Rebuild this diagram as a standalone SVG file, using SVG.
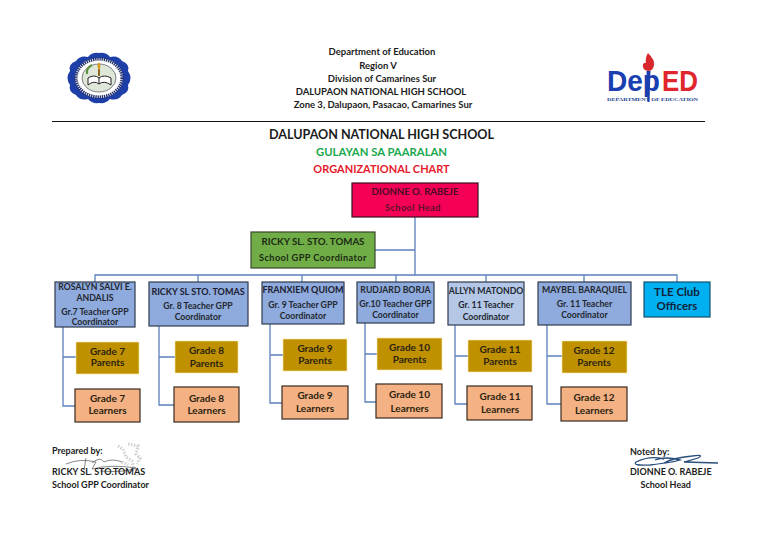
<svg xmlns="http://www.w3.org/2000/svg" width="768" height="543" viewBox="0 0 768 543">
<style>
text{font-family:Lato,"Liberation Sans",sans-serif;text-anchor:middle;fill:#1c1c1c}
.h{font-size:9.5px;font-weight:bold}
.n{font-size:9px;font-weight:bold;fill:#1a2030}
.r{font-size:8.7px;font-weight:bold;fill:#222830}
.g{font-size:10px;font-weight:bold;fill:#2c2410}
.l{text-anchor:start;font-size:9px;font-weight:bold}
.logo{font-family:"Liberation Sans",sans-serif;font-weight:bold;text-anchor:start}
.blue{fill:#8faadc;stroke:#2f3b4f;stroke-width:1.2}
.par{fill:#bf9000;stroke:#ffe9a8;stroke-width:.6}
.lea{fill:#f4b183;stroke:#3a2a20;stroke-width:1.2}
.c{fill:none;stroke:#5b80bd;stroke-width:1.3}
</style>
<rect width="768" height="543" fill="#fff"/>

<g id="seal">
<path d="M99 53 Q106 52 110 57 Q118 55 122 61 Q130 64 128 71 Q133 78 128 85 Q130 92 122 95 Q118 101 110 99 Q106 104 99 103 Q92 104 88 99 Q80 101 76 95 Q68 92 70 85 Q65 78 70 71 Q68 64 76 61 Q80 55 88 57 Q92 52 99 53Z" fill="#1f3fa8"/>
<ellipse cx="99" cy="78" rx="24" ry="20" fill="#fff"/>
<ellipse cx="99" cy="78" rx="23" ry="19" fill="none" stroke="#26336b" stroke-width="3.2" stroke-dasharray="1.4 .8"/>
<ellipse cx="99" cy="78" rx="17" ry="14" fill="#dfe8d8" stroke="#334" stroke-width=".6"/>
<path d="M88 85 Q94 80 99 84 Q104 80 111 85 L111 78 Q104 74 99 78 Q94 74 88 78Z" fill="#fff" stroke="#222" stroke-width="1"/>
<path d="M99 78V84" stroke="#222" stroke-width="1"/>
<path d="M99 76V69" stroke="#8a6a20" stroke-width="2"/>
<path d="M99 62Q96 66 99 70Q102 66 99 62Z" fill="#d69a20"/>
<path d="M87 74Q86 68 92 65" fill="none" stroke="#5c8f3a" stroke-width="2"/>
</g>

<g id="deped">
<text class="logo" x="607" y="91" font-size="30" textLength="53" lengthAdjust="spacingAndGlyphs" style="fill:#1a3fb0">Dep</text>
<text class="logo" x="662" y="91" font-size="30" textLength="36" lengthAdjust="spacingAndGlyphs" style="fill:#e0252c">ED</text>
<path d="M646.500 71H650.500L649.500 102H647.500Z" fill="#1a3fb0"/>
<path d="M648 53Q655 60 654 65Q653 71 648 71Q642 70 643 64Q645 62 646 63Q645 58 648 53Z" fill="#d9272e"/>
<text class="logo" x="607" y="101" font-size="5" textLength="91" lengthAdjust="spacingAndGlyphs" style='font-family:"Liberation Serif",serif;fill:#1a3f90'>DEPARTMENT OF EDUCATION</text>
</g>

<g id="header">
<text class="h" x="382" y="55">Department of Education</text>
<text class="h" x="378" y="68.500">Region V</text>
<text class="h" x="382" y="81.500">Division of Camarines Sur</text>
<text class="h" x="381" y="94.500">DALUPAON NATIONAL HIGH SCHOOL</text>
<text class="h" x="383" y="107.500">Zone 3, Dalupaon,  Pasacao, Camarines Sur</text>
<path d="M52 121.500H705" stroke="#111" stroke-width="1"/>
<text x="381.500" y="139" font-size="12.600" font-weight="bold" textLength="225">DALUPAON NATIONAL HIGH SCHOOL</text>
<text x="381.500" y="155.500" font-size="11.300" font-weight="bold" style="fill:#19a84e">GULAYAN SA PAARALAN</text>
<text x="381.500" y="173" font-size="11" font-weight="bold" style="fill:#e8192c">ORGANIZATIONAL CHART</text>
</g>

<g id="connectors">
<path class="c" d="M415 217V275M375 250H415M95 282V275H677V282M198 275V282M302 275V282M396 275V282M486 275V282M584 275V282"/>
<path class="c" d="M63 327V406H75M63 357H76"/>
<path class="c" d="M159 326V405H174M159 357H175"/>
<path class="c" d="M270 324V403H282M270 355H283"/>
<path class="c" d="M365 323V402H376M365 354H377"/>
<path class="c" d="M455 325V404H467M455 356H468"/>
<path class="c" d="M547 325V404H561M547 356H562"/>
</g>

<g id="head"><rect x="352" y="183" width="126" height="34" fill="#f50057" stroke="#3a1020" stroke-width="1.200"/>
<text x="415" y="195" style="fill:#4a0a24;font-size:9.600px;font-weight:bold">DIONNE O. RABEJE</text><text x="413" y="211" style="fill:#5a1028;font-size:9px;font-weight:bold;letter-spacing:.5px">School Head</text></g>
<g id="gpp"><rect x="251" y="232" width="124" height="36" fill="#70ad47" stroke="#39472f" stroke-width="1.200"/>
<text x="313" y="245" style="fill:#1c2a14;font-size:9.700px;font-weight:bold">RICKY SL.  STO. TOMAS</text><text x="313" y="261" style="fill:#1c2a14;font-size:9.200px;font-weight:bold;letter-spacing:.4px">School GPP Coordinator</text></g>

<g id="c7"><rect class="blue" x="55" y="282" width="80" height="45"/>
<text class="r" x="95" y="290">ROSALYN SALVI E.</text><text class="r" x="95" y="301">ANDALIS</text><text class="r" x="95" y="315">Gr.7  Teacher GPP</text><text class="r" x="95" y="325">Coordinator</text></g>
<g id="c8"><rect class="blue" x="149" y="282" width="99" height="44"/>
<text class="n" x="198" y="295">RICKY SL STO. TOMAS</text><text class="r" x="198" y="309">Gr. 8 Teacher GPP</text><text class="r" x="198" y="320">Coordinator</text></g>
<g id="c9"><rect class="blue" x="262" y="282" width="82" height="42"/>
<text class="n" x="303" y="293">FRANXIEM QUIOM</text><text class="r" x="303" y="308">Gr. 9 Teacher GPP</text><text class="r" x="303" y="319">Coordinator</text></g>
<g id="c10"><rect class="blue" x="357" y="282" width="77" height="41"/>
<text class="r" x="395.500" y="293">RUDJARD BORJA</text><text class="r" x="395.500" y="307">Gr.10 Teacher GPP</text><text class="r" x="395.500" y="318">Coordinator</text></g>
<g id="c11"><rect class="blue" x="448" y="282" width="76" height="43" style="fill:#b4c7e7"/>
<text class="r" x="486" y="294">ALLYN MATONDO</text><text class="r" x="486" y="308">Gr. 11 Teacher</text><text class="r" x="486" y="320">Coordinator</text></g>
<g id="c12"><rect class="blue" x="538" y="282" width="93" height="43"/>
<text class="r" x="584.500" y="293">MAYBEL BARAQUIEL</text><text class="r" x="584.500" y="307">Gr. 11 Teacher</text><text class="r" x="584.500" y="318">Coordinator</text></g>
<g id="tle"><rect x="644" y="282" width="66" height="35" fill="#00b0f0" stroke="#14506a" stroke-width="1.200"/>
<text x="677" y="296" style="font-size:11.500px;font-weight:bold;fill:#10233a">TLE Club</text><text x="677" y="310" style="font-size:11.500px;font-weight:bold;fill:#10233a">Officers</text></g>

<g id="p7"><rect class="par" x="76" y="342" width="63" height="32"/><text class="g" x="107.500" y="355">Grade 7</text><text class="g" x="107.500" y="366">Parents</text></g>
<g id="l7"><rect class="lea" x="75" y="389" width="65" height="33"/><text class="g" x="107.500" y="402">Grade 7</text><text class="g" x="107.500" y="414">Learners</text></g>
<g id="p8"><rect class="par" x="175" y="341" width="63" height="32"/><text class="g" x="206.500" y="354">Grade 8</text><text class="g" x="206.500" y="367">Parents</text></g>
<g id="l8"><rect class="lea" x="174" y="387" width="65" height="35"/><text class="g" x="206.500" y="402">Grade 8</text><text class="g" x="206.500" y="414">Learners</text></g>
<g id="p9"><rect class="par" x="283" y="339" width="64" height="32"/><text class="g" x="315" y="352">Grade 9</text><text class="g" x="315" y="364">Parents</text></g>
<g id="l9"><rect class="lea" x="282" y="386" width="66" height="33"/><text class="g" x="315" y="399">Grade 9</text><text class="g" x="315" y="412">Learners</text></g>
<g id="p10"><rect class="par" x="377" y="338" width="65" height="32"/><text class="g" x="409.500" y="351">Grade 10</text><text class="g" x="409.500" y="363">Parents</text></g>
<g id="l10"><rect class="lea" x="376" y="384" width="66" height="34"/><text class="g" x="409.500" y="398">Grade 10</text><text class="g" x="409.500" y="412">Learners</text></g>
<g id="p11"><rect class="par" x="468" y="340" width="64" height="32"/><text class="g" x="500" y="353">Grade 11</text><text class="g" x="500" y="365">Parents</text></g>
<g id="l11"><rect class="lea" x="467" y="386" width="65" height="34"/><text class="g" x="500" y="400">Grade 11</text><text class="g" x="500" y="413">Learners</text></g>
<g id="p12"><rect class="par" x="562" y="341" width="65" height="32"/><text class="g" x="594" y="354">Grade 12</text><text class="g" x="594" y="366">Parents</text></g>
<g id="l12"><rect class="lea" x="561" y="387" width="66" height="34"/><text class="g" x="594" y="401">Grade 12</text><text class="g" x="594" y="414">Learners</text></g>

<g id="prepared">
<path d="M118 446l5 3 3 8 6 4 2 9 4 5M128 444l10 2-2 8 4 4-3 6M122 462l6 3" fill="none" stroke="#cfcfcf" stroke-width="3" stroke-dasharray="1.500 1.500"/>
<path d="M66 464Q80 458 96 462L92 469Q110 464 136 468Q124 473 100 471M84 470L86 458M92 463Q100 456 104 462Q112 458 122 462" fill="none" stroke="#555" stroke-width=".7"/>
<text class="l" x="52" y="454">Prepared by:</text>
<text class="l" x="52" y="474.500">RICKY SL. STO.TOMAS</text>
<text class="l" x="52" y="487.500">School GPP Coordinator</text>
</g>
<g id="noted">
<path d="M664 459Q650 455 636 462Q632 466 650 465Q675 462 680 460Q665 456 655 460M664 463Q672 458 692 456Q705 454 698 458L684 462 718 463" fill="none" stroke="#2a4f7a" stroke-width="1.300"/>
<text class="l" x="630" y="454.500">Noted by:</text>
<text class="l" x="630" y="474.500">DIONNE O. RABEJE</text>
<text class="l" x="640.500" y="487.500">School Head</text>
</g>
</svg>
